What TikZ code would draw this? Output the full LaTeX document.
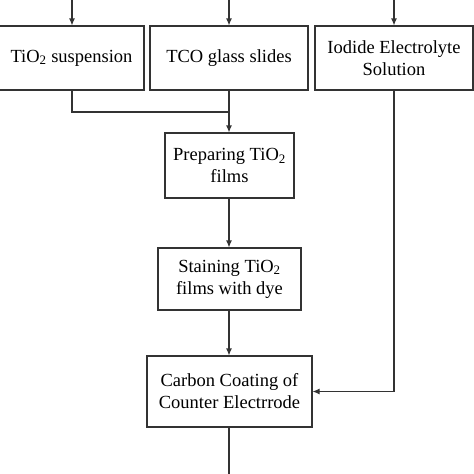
\documentclass[tikz,border=0pt]{standalone}
\usepackage{fontspec}
\setmainfont{Liberation Serif}
\usetikzlibrary{arrows.meta}

\begin{document}
\begin{tikzpicture}[x=1pt,y=1pt]
\tikzset{box/.style={draw=black!80, line width=1.1pt, align=center, inner sep=0pt,
                     font=\fontsize{18.5}{22}\selectfont},
         flow/.style={draw=black!80, line width=1.1pt},
         arr/.style={flow, -{Latex[length=7pt,width=6pt]}}}
\useasboundingbox (0,0) rectangle (474,-474);
\clip (0,0) rectangle (474,-474);

\node[box, minimum width=145, minimum height=64] (sus) at (71.5,-58) {TiO\textsubscript{2} suspension};
\node[box, minimum width=158, minimum height=64] (tco) at (229,-58) {TCO glass slides};
\node[box, minimum width=158, minimum height=64] (iod) at (394,-58) {Iodide Electrolyte\\Solution};
\node[box, minimum width=129, minimum height=65] (prep) at (229.5,-165.5) {Preparing TiO\textsubscript{2}\\films};
\node[box, minimum width=143, minimum height=62] (stain) at (229.5,-279) {Staining TiO\textsubscript{2}\\films with dye};
\node[box, minimum width=165, minimum height=71] (carb) at (229.5,-391.5) {Carbon Coating of\\Counter Electrrode};

% free ends outside the page
\coordinate (in1) at (72,5);
\coordinate (in2) at (229,5);
\coordinate (in3) at (394,5);
\coordinate (j) at (229,-112);
\coordinate (out) at (229,-480);

\draw[arr] (in1) -- (sus.north -| in1);
\draw[arr] (in2) -- (tco.north -| in2);
\draw[arr] (in3) -- (iod.north -| in3);
\draw[flow] (sus.south -| in1) |- (j);
\draw[arr] (tco.south -| in2) -- (prep.north -| in2);
\draw[arr] (prep.south -| in2) -- (stain.north -| in2);
\draw[arr] (stain.south -| in2) -- (carb.north -| in2);
\draw[arr] (iod.south -| in3) |- (carb.east);
\draw[flow] (carb.south -| in2) -- (out);

\end{tikzpicture}
\end{document}
